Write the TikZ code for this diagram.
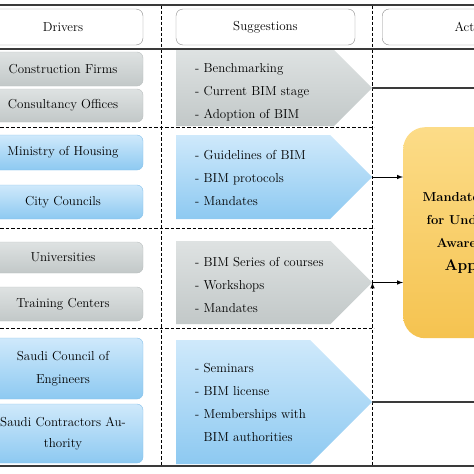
\documentclass[tikz,border=0pt]{standalone}
\usepackage{tikz}
\usetikzlibrary{arrows,shapes.symbols}
\definecolor{greytop}{HTML}{DEE2E2}
\definecolor{greybot}{HTML}{C2C8C8}
\definecolor{greyline}{HTML}{B9BEBE}
\definecolor{bluetop}{HTML}{CFE9FB}
\definecolor{bluebot}{HTML}{8DC9F1}
\definecolor{blueline}{HTML}{86C1EA}
\definecolor{goldtop}{HTML}{FCDC88}
\definecolor{goldbot}{HTML}{F5C350}
\definecolor{rule}{HTML}{3A3A3A}
\tikzstyle{head}=[rectangle,rounded corners=7pt,draw=black!45,fill=white,minimum height=36pt]
\tikzstyle{driver}=[rectangle,rounded corners=6pt,minimum width=160pt,align=center]
\tikzstyle{greybox}=[driver,draw=greyline,top color=greytop,bottom color=greybot]
\tikzstyle{bluebox}=[driver,draw=blueline,top color=bluetop,bottom color=bluebot]
\tikzstyle{sugg}=[signal,signal to=east,signal pointer angle=90,minimum width=196pt,inner sep=0pt,anchor=west]
\tikzstyle{items}=[align=left,anchor=west,inner sep=0pt]
\tikzstyle{grid}=[dash pattern=on 3.5pt off 2pt,line width=0.9pt]
\tikzstyle{solid rule}=[draw=rule,line width=1.3pt]

\begin{document}
\begin{tikzpicture}[x=1pt,y=-1pt,>=latex,font=\fontsize{13}{23}\selectfont]
  \useasboundingbox (0,0) rectangle (474,474);
  \clip (0,0) rectangle (474,474);
  % headers
  \node (hd) [head,minimum width=160pt] at (63,27) {Drivers};
  \node (hs) [head,minimum width=179pt] at (265.5,27) {Suggestions};
  \node (ha) [head,minimum width=200pt,anchor=west] at (382,27) {};
  \node (hat) [anchor=west] at (451,27) {Act};
  % drivers
  \node (cf)  [greybox,minimum height=34pt] at (63,69) {Construction Firms};
  \node (co)  [greybox,minimum height=33pt] at (63,105.5) {Consultancy Offices};
  \node (mh)  [bluebox,minimum height=35pt] at (63,152.5) {Ministry of Housing};
  \node (cc)  [bluebox,minimum height=34pt] at (63,202) {City Councils};
  \node (un)  [greybox,minimum height=31pt] at (63,257.5) {Universities};
  \node (tc)  [greybox,minimum height=34pt] at (63,304) {Training Centers};
  \node (sce) [bluebox,minimum height=61pt] at (63,368.5) {Saudi Council of\\Engineers};
  \node (sca) [bluebox,minimum height=59pt,font=\fontsize{13}{21}\selectfont] at (63,433.5) {Saudi Contractors Au-\\thority};
  % suggestions
  \node (s1) [sugg,minimum height=76pt,top color=greytop,bottom color=greybot] at (176,88) {};
  \node (s2) [sugg,minimum height=84pt,top color=bluetop,bottom color=bluebot] at (176,177) {};
  \node (s3) [sugg,minimum height=83pt,top color=greytop,bottom color=greybot] at (176,282.5) {};
  \node (s4) [sugg,minimum height=124pt,top color=bluetop,bottom color=bluebot] at (176,402) {};
  \node (t1) [items] at (195,92) {- Benchmarking\\- Current BIM stage\\- Adoption of BIM};
  \node (t2) [items] at (195,178) {- Guidelines of BIM\\- BIM protocols\\- Mandates};
  \node (t3) [items] at (195,285) {- BIM Series of courses\\- Workshops\\- Mandates};
  \node (t4) [items] at (195,402) {- Seminars\\- BIM license\\- Memberships with\\\phantom{- }BIM authorities};
  % action
  \node (goal) [rectangle,rounded corners=22pt,top color=goldtop,bottom color=goldbot,
    minimum width=140pt,minimum height=211pt,anchor=north west] at (403,127) {};
  \node (gt) [align=left,anchor=west,font=\fontsize{13}{23}\bfseries] at (419,233)
    {Mandato\\\hspace*{4pt}for Und\\\hspace*{14pt}Aware\\\hspace*{22pt}{\fontsize{15.5}{20}\selectfont App}};
  % grid
  \draw[grid] (0,127) -- (374,127) (0,228) -- (374,228) (0,328) -- (374,328);
  \draw[grid] (161,5) -- (161,466) (372,5) -- (372,466);
  \draw[solid rule] (0,5) -- (474,5) (0,49) -- (474,49) (0,466) -- (474,466);
  % links
  \coordinate (e1) at (480,88);
  \coordinate (e4) at (480,402);
  \draw[solid rule,line width=1.1pt] (s1.east) -- (e1) (s4.east) -- (e4);
  \path[->,draw=black,line width=1pt]
    (s2.east) edge (s2.east -| goal.west)
    (s3.east) edge (s3.east -| goal.west);
\end{tikzpicture}
\end{document}
